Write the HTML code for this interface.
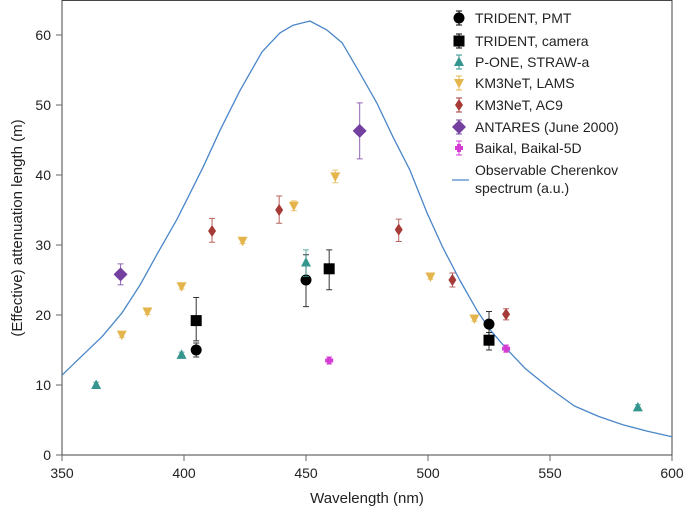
<!DOCTYPE html>
<html><head><meta charset="utf-8"><style>
body{margin:0;background:#fff}
svg text{font-family:"Liberation Sans",sans-serif;fill:#222}
</style></head><body>
<svg id="chart" width="685" height="510" xmlns="http://www.w3.org/2000/svg">
<g id="plot"></g>
</svg>
<script>
const xTicks=[350,400,450,500,550,600];
const yTicks=[0,10,20,30,40,50,60];
const curveWl=[350,357.4,366.4,374.6,382,389.3,397,402.5,407.8,414.8,423,432,439.3,444.7,451.6,458.6,464.8,472,479,485.7,492.6,499.6,506,513,520,525.4,531.6,540,550,560,570,580,590,600];
const curveVal=[11.4,13.9,16.9,20.3,24.3,28.9,33.6,37.4,41.1,46.4,52.1,57.6,60.3,61.4,62,60.7,58.9,54.6,50.3,45.4,40.7,34.6,29.7,25,20.7,17.9,15.4,12.3,9.5,7,5.5,4.3,3.4,2.6];
const pmtWl=[405,450,525], pmtVal=[15,25,18.7], pmtLo=[14,21.2,17], pmtHi=[16,28.6,20.5];
const camWl=[405,459.5,525], camVal=[19.2,26.6,16.4], camLo=[16.3,23.6,15], camHi=[22.5,29.3,17.5];
const poneWl=[364,399,450,586], poneVal=[10,14.3,27.5,6.8], poneLo=[9.6,13.9,25.5,6.4], poneHi=[10.4,14.7,29.3,7.2];
const lamsWl=[374.5,385,399,424,445,462,501,519], lamsVal=[17.2,20.5,24.1,30.6,35.6,39.8,25.5,19.5];
const lamsLo=[16.8,20.1,23.7,30.2,34.9,38.9,25.1,19.1], lamsHi=[17.6,20.9,24.5,31,36.3,40.7,25.9,19.9];
const ac9Wl=[411.5,439,488,510,532], ac9Val=[32,35,32.2,25,20.1], ac9Lo=[30.4,33.1,30.5,24,19.3], ac9Hi=[33.8,37,33.7,26,20.9];
const antWl=[374,472], antVal=[25.8,46.3], antLo=[24.3,42.3], antHi=[27.3,50.3];
const baiWl=[459.5,532], baiVal=[13.5,15.2], baiLo=[13,14.7], baiHi=[14,15.7];

const X=v=>62+(v-350)*610/250;
const Y=v=>455-v*7;
const NS='http://www.w3.org/2000/svg';
const svg=document.getElementById('chart');
function mk(tag,attrs,parent){const e=document.createElementNS(NS,tag);for(const k in attrs)e.setAttribute(k,attrs[k]);(parent||svg).appendChild(e);return e;}
let f=mk('rect',{x:62,y:0.5,width:610,height:454.5,fill:'none',stroke:'#444','stroke-width':1});


xTicks.forEach(t=>{
 let l=mk('line',{x1:X(t),x2:X(t),y1:455,y2:461,stroke:'#666'});
 
 
 let tx=mk('text',{x:X(t),y:478,'text-anchor':'middle','font-size':14});tx.textContent=t;
 
 
});
yTicks.forEach(t=>{
 let l=mk('line',{x1:56,x2:62,y1:Y(t),y2:Y(t),stroke:'#666'});
 
 
 let tx=mk('text',{x:51,y:Y(t)+5,'text-anchor':'end','font-size':14});tx.textContent=t;
 
 
});
let xt=mk('text',{x:367,y:503,'text-anchor':'middle','font-size':15});xt.textContent='Wavelength (nm)';


let yt=mk('text',{x:0,y:0,'text-anchor':'middle','font-size':15,transform:'translate(22,228) rotate(-90)'});yt.textContent='(Effective) attenuation length (m)';


let d=curveWl.map((w,i)=>(i?'L':'M')+X(w).toFixed(1)+','+Y(curveVal[i]).toFixed(1)).join('');
let cp=mk('path',{d:d,fill:'none',stroke:'#4a86c8','stroke-width':1.3,'stroke-linejoin':'round'});


function marker(shape,cx,cy,col){
 if(shape==='circle')return mk('circle',{cx,cy,r:5.5,fill:col});
 if(shape==='square')return mk('rect',{x:cx-5.5,y:cy-5.5,width:11,height:11,fill:col});
 if(shape==='tri')return mk('path',{d:`M${cx},${cy-5.5}L${cx+5},${cy+4}L${cx-5},${cy+4}Z`,fill:col});
 if(shape==='dtri')return mk('path',{d:`M${cx},${cy+5.5}L${cx+5},${cy-4}L${cx-5},${cy-4}Z`,fill:col});
 if(shape==='dia')return mk('path',{d:`M${cx},${cy-6}L${cx+4},${cy}L${cx},${cy+6}L${cx-4},${cy}Z`,fill:col});
 if(shape==='bdia')return mk('path',{d:`M${cx},${cy-7}L${cx+7},${cy}L${cx},${cy+7}L${cx-7},${cy}Z`,fill:col});
 if(shape==='plus')return mk('path',{d:`M${cx-2},${cy-4}h4v2h2v4h-2v2h-4v-2h-2v-4h2Z`,fill:col});
}
function series(name,wl,val,lo,hi,shape,col){
 wl.forEach((w,i)=>{
  const cx=X(w);
  let e=mk('path',{d:`M${cx},${Y(lo[i])}V${Y(hi[i])}M${cx-3},${Y(lo[i])}h6M${cx-3},${Y(hi[i])}h6`,stroke:col,'stroke-width':1,fill:'none',opacity:0.8});
  
  
  let m=marker(shape,cx,Y(val[i]),col);
  
  
 });
}
series('trident-pmt',pmtWl,pmtVal,pmtLo,pmtHi,'circle','#000');
series('trident-camera',camWl,camVal,camLo,camHi,'square','#000');
series('p-one',poneWl,poneVal,poneLo,poneHi,'tri','#35958f');
series('km3net-lams',lamsWl,lamsVal,lamsLo,lamsHi,'dtri','#e4b54c');
series('km3net-ac9',ac9Wl,ac9Val,ac9Lo,ac9Hi,'dia','#a63a36');
series('antares',antWl,antVal,antLo,antHi,'bdia','#7440a0');
series('baikal',baiWl,baiVal,baiLo,baiHi,'plus','#d43cd4');
const legNames=['TRIDENT, PMT','TRIDENT, camera','P-ONE, STRAW-a','KM3NeT, LAMS','KM3NeT, AC9','ANTARES (June 2000)','Baikal, Baikal-5D'];
const legShapes=['circle','square','tri','dtri','dia','bdia','plus'];
const legCols=['#000','#000','#35958f','#e4b54c','#a63a36','#7440a0','#d43cd4'];
const legY=[18,41,62,83,105,127,148];
legNames.forEach((n,i)=>{
 let g=mk('path',{d:`M459,${legY[i]-7}V${legY[i]+7}M456,${legY[i]-7}h6M456,${legY[i]+7}h6`,stroke:legCols[i],fill:'none'});
 
 
 let m=marker(legShapes[i],459,legY[i],legCols[i]);
 
 
 let t=mk('text',{x:475,y:legY[i]+5,'font-size':14});t.textContent=n;
 
 
});
let ll=mk('line',{x1:452,x2:469,y1:180,y2:180,stroke:'#4a86c8','stroke-width':1.3});


let t1=mk('text',{x:475,y:175,'font-size':14});t1.textContent='Observable Cherenkov';


let t2=mk('text',{x:475,y:193,'font-size':14});t2.textContent='spectrum (a.u.)';


</script>
</body></html>
